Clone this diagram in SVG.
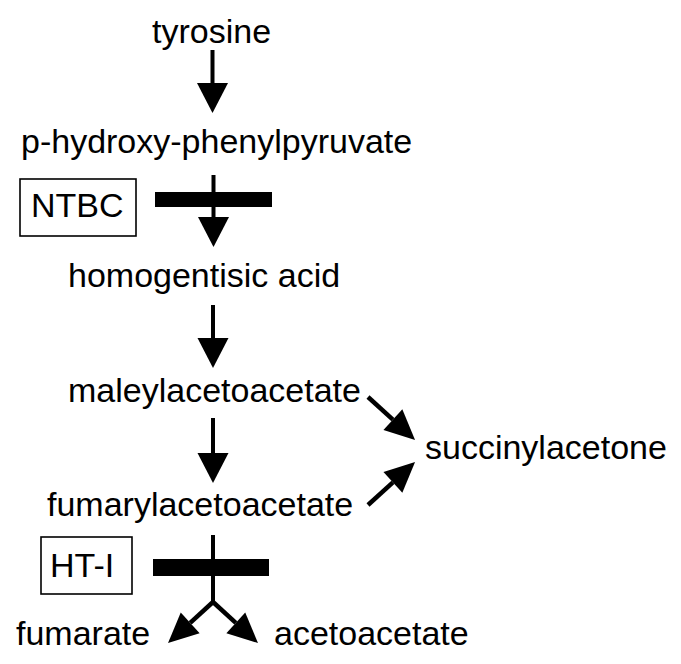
<svg xmlns="http://www.w3.org/2000/svg" width="681" height="664" viewBox="0 0 681 664">
<style>
.t{font-family:"Liberation Sans",Arial,sans-serif;font-size:34px;fill:#000}
.c{stroke:#000;stroke-width:4;fill:none}
.d{stroke:#000;stroke-width:4.5;fill:none}
.box{fill:none;stroke:#000;stroke-width:1.6}
</style>
<defs>
<marker id="hL" markerUnits="userSpaceOnUse" markerWidth="32" markerHeight="32" viewBox="0 -16 31 32" refX="0" refY="0" orient="auto" overflow="visible">
<path d="M0,-15.5 L30,0 L0,15.5 Z" fill="#000"/>
</marker>
<marker id="hS" markerUnits="userSpaceOnUse" markerWidth="31" markerHeight="30" viewBox="0 -15 31 30" refX="0" refY="0" orient="auto" overflow="visible">
<path d="M0,-14 L30,0 L0,14 Z" fill="#000"/>
</marker>
</defs>
<rect width="681" height="664" fill="#fff"/>
<g id="tyrosine"><text class="t" x="152" y="43">tyrosine</text></g>
<g id="phpp"><text class="t" x="21" y="153">p-hydroxy-phenylpyruvate</text></g>
<g id="ntbc"><rect class="box" x="20" y="179" width="116" height="57"/><text class="t" x="31" y="217">NTBC</text></g>
<g id="hga"><text class="t" x="68" y="287">homogentisic acid</text></g>
<g id="maa"><text class="t" x="68" y="402">maleylacetoacetate</text></g>
<g id="faa"><text class="t" x="47" y="516">fumarylacetoacetate</text></g>
<g id="sa"><text class="t" x="425" y="459">succinylacetone</text></g>
<g id="hti"><rect class="box" x="41" y="537" width="91" height="57"/><text class="t" x="50" y="577">HT-I</text></g>
<g id="fumarate"><text class="t" x="16" y="645">fumarate</text></g>
<g id="acetoacetate"><text class="t" x="274" y="645">acetoacetate</text></g>
<g id="connectors">
<line class="c" x1="212.5" y1="50" x2="212.5" y2="83" marker-end="url(#hL)"/>
<line class="c" x1="213.5" y1="175" x2="213.5" y2="217" marker-end="url(#hL)"/>
<rect x="155" y="192" width="117" height="15" fill="#000"/>
<line class="c" x1="213" y1="305" x2="213" y2="338" marker-end="url(#hL)"/>
<line class="c" x1="213" y1="418" x2="213" y2="453" marker-end="url(#hL)"/>
<line class="d" x1="368" y1="397" x2="392.9" y2="419.7" marker-end="url(#hS)"/>
<line class="d" x1="368" y1="505" x2="392.9" y2="482.3" marker-end="url(#hS)"/>
<line class="c" x1="213" y1="535" x2="213" y2="603"/>
<rect x="153" y="559" width="116" height="17" fill="#000"/>
<line class="d" x1="213" y1="602" x2="190.2" y2="622.8" marker-end="url(#hS)"/>
<line class="d" x1="213" y1="602" x2="235.8" y2="622.8" marker-end="url(#hS)"/>
</g>
</svg>
